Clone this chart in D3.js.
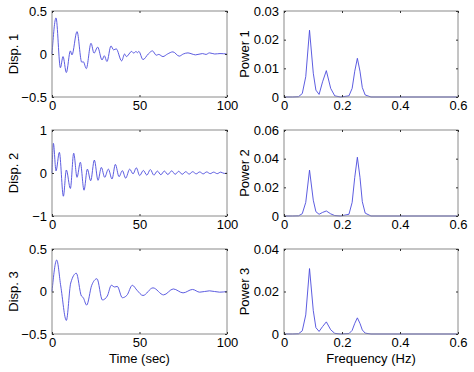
<!DOCTYPE html>
<html><head><meta charset="utf-8">
<script src="https://cdn.jsdelivr.net/npm/d3@7"></script>
<style>
body{margin:0;background:#fff;}
text{font-family:"Liberation Sans",Arial,sans-serif;fill:#000;}
</style></head>
<body><svg id="c" width="474" height="372"></svg>
<script>
// ---- Data ----
const t1 = [0,2.3,4.8,6.3,8.2,10.5,11.4,14.3,17,17.9,19.6,22.3,24,26.1,28.6,29.9,31.4,33.7,35.2,36.7,39.8,41.5,42.5,45.5,46.7,48,48.8,49.6,52,55,57.4,59.6,61,63.4,66,69.1,72.7,75,77.7,80,82,86,88,90,93,96,100];
const disp1 = [0,0.42,-0.16,-0.03,-0.215,0.036,-0.01,0.26,-0.095,-0.09,-0.17,0.125,0.01,0.08,-0.07,-0.02,-0.087,0.094,0.048,0.06,-0.08,0,-0.03,0.03,0.01,0.03,0.015,0.03,-0.065,0,0.036,-0.014,-0.005,-0.03,0,0.025,-0.025,0,0.013,0,-0.01,0.005,-0.005,0.013,0,0.005,0];

const t2 = [0,0.78,2.3,4.2,6.5,8.2,10.5,12.4,14.3,16.2,18.3,20.2,22.1,24.2,26.3,28.2,30.1,32.2,34.3,36.2,38.3,40.2,42.1,44.4,46.3,48.2,50.1,52.2,54.2,56.2,58.2,60.2,62.2,64.2,66.2,68.4,70.4,72.4,74.4,76.4,78.4,80.4,82.4,84.4,86.4,88.4,90.4,92.4,94.4,96.4,98.4,100];
const disp2 = [0,0.69,0.05,0.48,-0.54,0.07,-0.36,0.46,-0.1,0.25,-0.4,0.09,-0.18,0.3,-0.17,0.13,-0.1,0.09,-0.14,0.2,-0.085,0.055,-0.12,0.09,-0.02,0.12,-0.06,0.06,-0.05,0.08,-0.05,0.045,-0.04,0.045,-0.035,0.05,-0.03,0.04,-0.03,0.03,-0.025,0.03,-0.02,0.025,-0.02,0.025,-0.015,0.02,-0.015,0.02,-0.01,0];

const t3 = [0,2.7,5,8.2,10.7,13.9,16.8,17.8,19.8,22.7,25.7,28.8,31.6,33.9,35.8,37.3,40.2,42.8,45.9,48.6,52,57.7,63.8,69.3,74.9,80.3,84.4,90,95.8,100];
const disp3 = [0,0.37,0.065,-0.34,0.1,0.215,-0.053,-0.07,-0.16,0.073,0.15,-0.1,-0.053,0.073,0.053,0.06,-0.073,-0.045,0.073,0.014,-0.047,0.043,-0.04,0.03,-0.016,0.024,-0.008,0.008,-0.008,0];

const freq = [0,0.03,0.05,0.063,0.075,0.088,0.101,0.11,0.121,0.133,0.146,0.161,0.175,0.195,0.224,0.235,0.244,0.253,0.262,0.27,0.28,0.3,0.4,0.5,0.6];
const power1 = [0,0,0.0001,0.0012,0.0071,0.0233,0.0083,0.0024,0.0009,0.0053,0.0092,0.003,0.0004,0,0.0004,0.003,0.009,0.0135,0.009,0.0033,0.0007,0,0,0,0];
const power2 = [0,0,0.0001,0.0016,0.0095,0.032,0.011,0.003,0.0012,0.0025,0.0035,0.0015,0.0003,0,0.0012,0.0095,0.027,0.041,0.027,0.01,0.002,0,0,0,0];
const power3 = [0,0,0.0001,0.0015,0.009,0.0308,0.011,0.003,0.0012,0.0035,0.0057,0.002,0.0003,0,0.0002,0.0017,0.005,0.0076,0.005,0.0019,0.0004,0,0,0,0];

const timeTicks = [0,50,100];
const freqTicks = [0,0.2,0.4,0.6];
const dispTicks1 = [-0.5,0,0.5], dispTicks2 = [-1,0,1], dispTicks3 = [-0.5,0,0.5];
const powTicks1 = [0,0.01,0.02,0.03], powTicks2 = [0,0.02,0.04,0.06], powTicks3 = [0,0.02,0.04];
const dispLabels = ["Disp. 1","Disp. 2","Disp. 3"];
const powLabels = ["Power 1","Power 2","Power 3"];
const xTitleLeft = "Time (sec)", xTitleRight = "Frequency (Hz)";

// ---- Drawing ----
const svg = d3.select("#c");
const rows = [[11,97],[130,216],[249,334]];
const colL = [52,227], colR = [284,458];
const lineColor = "#4b4bdc", boxColor = "#8a8a8a";
const fmt = d => d === 0 ? "0" : d3.format("")(d).replace("-", "\u2212");

function panel(col, row, xDom, yDom, xTicks, yTicks, xs, ys, yLabel, labelX, xTitle, curve){
  const x = d3.scaleLinear().domain(xDom).range(col);
  const y = d3.scaleLinear().domain(yDom).range([row[1], row[0]]);
  const g = svg.append("g");
  g.append("path").datum(xs.map((d,i)=>[d, ys[i]]))
    .attr("fill","none").attr("stroke",lineColor).attr("stroke-width",0.9)
    .attr("d", d3.line().x(d=>x(d[0])).y(d=>y(d[1])).curve(curve));
  g.append("rect").attr("x",col[0]).attr("y",row[0]).attr("width",col[1]-col[0]).attr("height",row[1]-row[0])
    .attr("fill","none").attr("stroke",boxColor).attr("stroke-width",1);
  const ax = d3.axisBottom(x).tickValues(xTicks).tickFormat(fmt).tickSizeInner(-2).tickSizeOuter(0).tickPadding(4);
  const axT = d3.axisTop(x).tickValues(xTicks).tickFormat("").tickSizeInner(-2).tickSizeOuter(0);
  const ay = d3.axisLeft(y).tickValues(yTicks).tickFormat(fmt).tickSizeInner(-2).tickSizeOuter(0).tickPadding(5);
  const ayR = d3.axisRight(y).tickValues(yTicks).tickFormat("").tickSizeInner(-2).tickSizeOuter(0);
  const style = s => { s.select(".domain").remove(); s.selectAll("line").attr("stroke","#333");
    s.selectAll("text").attr("font-size",13).attr("font-family","Liberation Sans, Arial, sans-serif").attr("fill","#000"); };
  g.append("g").attr("transform",`translate(0,${row[1]})`).call(ax).call(style);
  g.append("g").attr("transform",`translate(0,${row[0]})`).call(axT).call(style);
  g.append("g").attr("transform",`translate(${col[0]},0)`).call(ay).call(style);
  g.append("g").attr("transform",`translate(${col[1]},0)`).call(ayR).call(style);
  g.append("text").attr("transform",`translate(${labelX},${(row[0]+row[1])/2}) rotate(-90)`)
    .attr("text-anchor","middle").attr("dominant-baseline","middle").attr("font-size",13).text(yLabel);
  if (xTitle) g.append("text").attr("x",(col[0]+col[1])/2).attr("y",row[1]+29)
    .attr("text-anchor","middle").attr("font-size",13).text(xTitle);
}

const tsets = [t1,t2,t3], dsets = [disp1,disp2,disp3], psets = [power1,power2,power3];
const dDoms = [[-0.5,0.5],[-1,1],[-0.5,0.5]], pDoms = [[0,0.03],[0,0.06],[0,0.04]];
const dT = [dispTicks1,dispTicks2,dispTicks3], pT = [powTicks1,powTicks2,powTicks3];
for (let i=0;i<3;i++){
  panel(colL, rows[i], [0,100], dDoms[i], timeTicks, dT[i], tsets[i], dsets[i], dispLabels[i], 15, i===2?xTitleLeft:null, d3.curveMonotoneX);
  panel(colR, rows[i], [0,0.6], pDoms[i], freqTicks, pT[i], freq, psets[i], powLabels[i], 246, i===2?xTitleRight:null, d3.curveLinear);
}
</script></body></html>
